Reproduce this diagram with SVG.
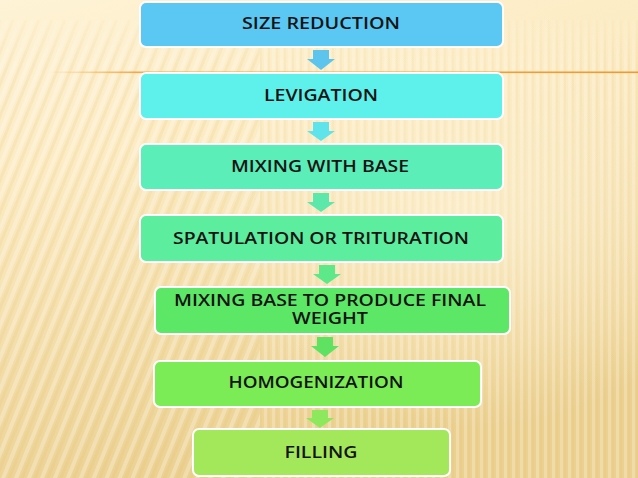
<svg xmlns="http://www.w3.org/2000/svg" width="638" height="478" viewBox="0 0 638 478">
<defs>
<linearGradient id="bg" x1="0" y1="0" x2="0.3" y2="1">
<stop offset="0" stop-color="#FEF3D6"/>
<stop offset="0.35" stop-color="#FCEBC2"/>
<stop offset="1" stop-color="#EBD090"/>
</linearGradient>
<radialGradient id="glow" cx="0.72" cy="0.45" r="0.45">
<stop offset="0" stop-color="#FFF6DC" stop-opacity="0.6"/>
<stop offset="1" stop-color="#FFF6DC" stop-opacity="0"/>
</radialGradient>
<pattern id="stripesV" width="8" height="8" patternUnits="userSpaceOnUse">
<rect x="0" y="0" width="3" height="8" fill="#FFFFFF" fill-opacity="0.3"/>
<rect x="4" y="0" width="2" height="8" fill="#D9B870" fill-opacity="0.15"/>
</pattern>
<pattern id="stripesL" width="12" height="12" patternUnits="userSpaceOnUse" patternTransform="rotate(22)">
<rect x="0" y="0" width="4" height="12" fill="#FFFFFF" fill-opacity="0.28"/>
<rect x="6" y="0" width="3" height="12" fill="#D9B870" fill-opacity="0.15"/>
</pattern>
<linearGradient id="fadeTop" x1="0" y1="0" x2="0" y2="1">
<stop offset="0" stop-color="#fff" stop-opacity="0"/>
<stop offset="0.14" stop-color="#fff" stop-opacity="1"/>
<stop offset="1" stop-color="#fff" stop-opacity="1"/>
</linearGradient>
<mask id="m" maskUnits="userSpaceOnUse" x="0" y="0" width="638" height="478">
<rect x="0" y="0" width="638" height="478" fill="url(#fadeTop)"/>
</mask>
<linearGradient id="orange" x1="0" y1="0" x2="1" y2="0">
<stop offset="0" stop-color="#F5A840" stop-opacity="0"/>
<stop offset="0.15" stop-color="#F2A03A" stop-opacity="0.9"/>
<stop offset="1" stop-color="#EE9A30"/>
</linearGradient>
<style>
.box{stroke:#FFFFFF;stroke-width:2}
.lbl{font-family:"Open Sans","Liberation Sans",sans-serif;font-weight:600;font-size:15.5px;fill:#141414;text-anchor:middle}
</style>
</defs>
<rect x="0" y="0" width="638" height="478" fill="url(#bg)"/>
<g mask="url(#m)">
<rect x="0" y="20" width="260" height="458" fill="url(#stripesL)"/>
<rect x="260" y="20" width="378" height="458" fill="url(#stripesV)" opacity="0.8"/>
</g>
<rect x="0" y="0" width="638" height="478" fill="url(#glow)"/>
<rect x="48" y="71.5" width="590" height="1.6" fill="url(#orange)"/>

<g id="connectors">
<path d="M313 50 H329 V59 H335 L321 70 L307 59 H313 Z" fill="#5DC4EE"/>
<path d="M313 122 H329 V131 H335 L321 141 L307 131 H313 Z" fill="#5EE4EA"/>
<path d="M313 193 H329 V202 H335 L321 212 L307 202 H313 Z" fill="#5CE8AA"/>
<path d="M319 265 H335 V274 H341 L327 284 L313 274 H319 Z" fill="#5DE88A"/>
<path d="M317 337 H333 V346 H339 L325 357 L311 346 H317 Z" fill="#5FE262"/>
<path d="M312 410 H328 V418 H334 L320 428 L306 418 H312 Z" fill="#8EE85E"/>
</g>

<g id="n1"><rect class="box" x="140" y="2" width="363" height="45" rx="6" fill="#5BC8F3"/><text class="lbl" x="321" y="29" textLength="158" lengthAdjust="spacingAndGlyphs">SIZE REDUCTION</text></g>
<g id="n2"><rect class="box" x="140" y="73" width="363" height="46" rx="6" fill="#5EF0EA"/><text class="lbl" x="321" y="101" textLength="114" lengthAdjust="spacingAndGlyphs">LEVIGATION</text></g>
<g id="n3"><rect class="box" x="140" y="144" width="363" height="46" rx="6" fill="#5BEEB8"/><text class="lbl" x="320" y="172" textLength="178" lengthAdjust="spacingAndGlyphs">MIXING WITH BASE</text></g>
<g id="n4"><rect class="box" x="140" y="215" width="363" height="47" rx="6" fill="#5CEE9E"/><text class="lbl" x="321" y="244" textLength="296" lengthAdjust="spacingAndGlyphs">SPATULATION OR TRITURATION</text></g>
<g id="n5"><rect class="box" x="155" y="287" width="355" height="47" rx="6" fill="#5CE866"/><text class="lbl" x="330" y="306" textLength="312" lengthAdjust="spacingAndGlyphs">MIXING BASE TO PRODUCE FINAL</text><text class="lbl" x="330" y="324" textLength="76" lengthAdjust="spacingAndGlyphs">WEIGHT</text></g>
<g id="n6"><rect class="box" x="154" y="361" width="327" height="46" rx="6" fill="#7CEC56"/><text class="lbl" x="316" y="388" textLength="175" lengthAdjust="spacingAndGlyphs">HOMOGENIZATION</text></g>
<g id="n7"><rect class="box" x="193" y="429" width="257" height="47" rx="6" fill="#A3E85A"/><text class="lbl" x="321" y="458" textLength="73" lengthAdjust="spacingAndGlyphs">FILLING</text></g>
</svg>
